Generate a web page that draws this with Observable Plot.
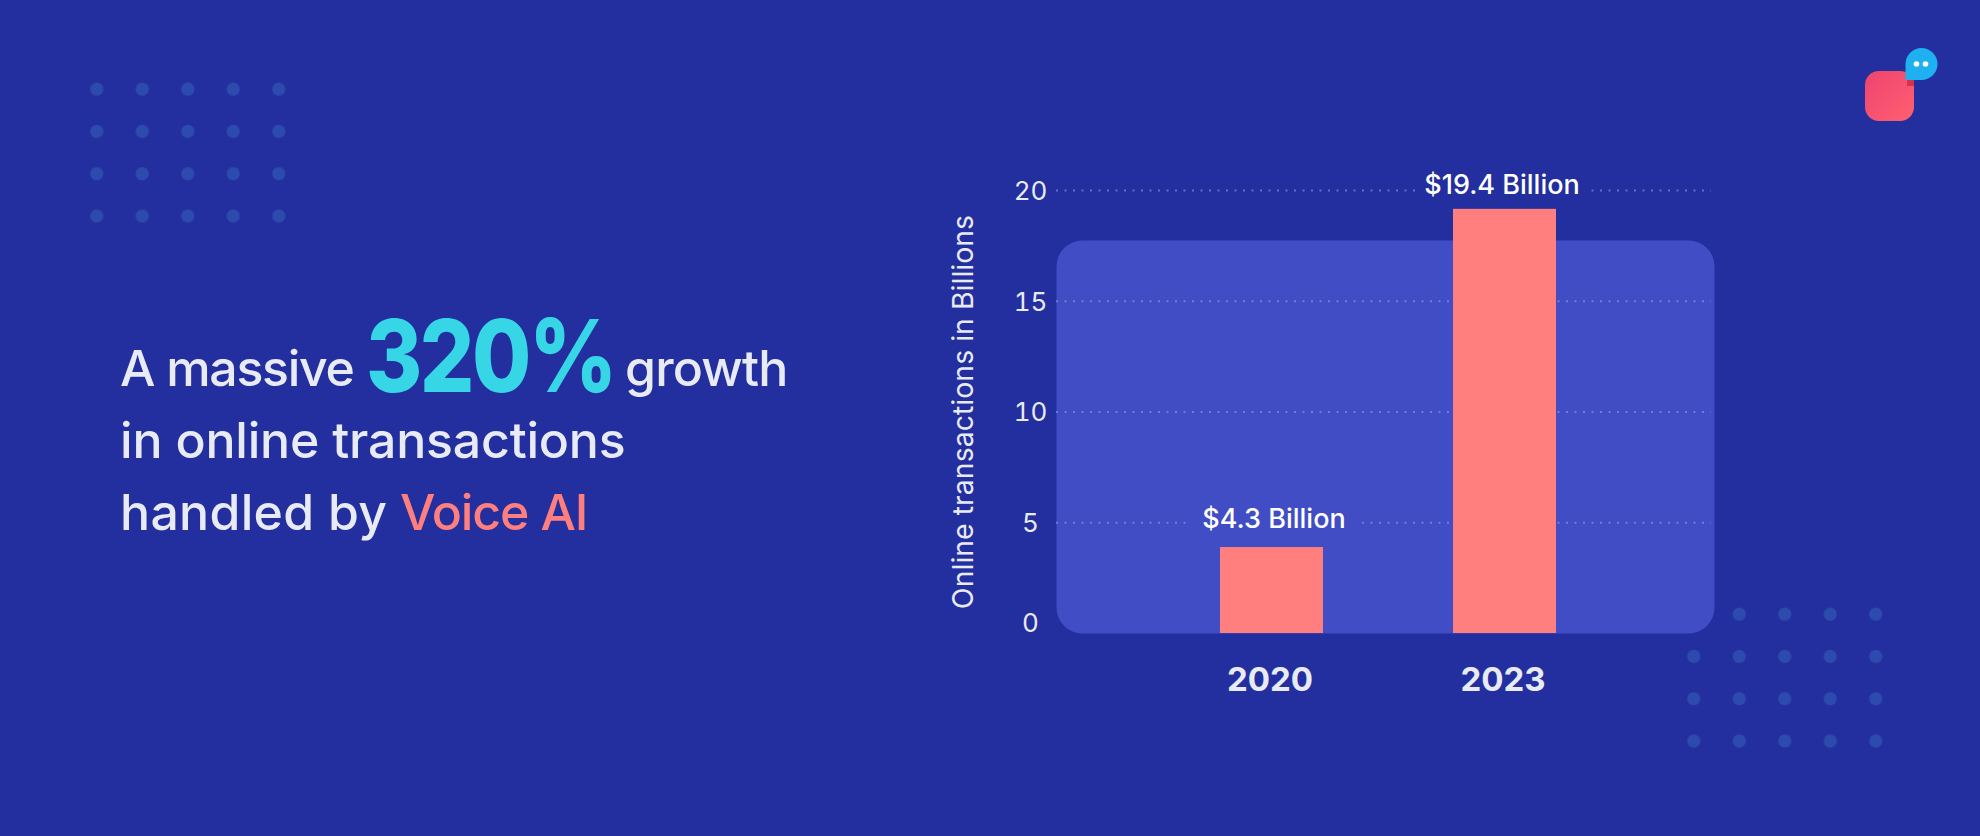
<!DOCTYPE html>
<html>
<head>
<meta charset="utf-8">
<script src="https://cdn.jsdelivr.net/npm/d3@7"></script>
<script src="https://cdn.jsdelivr.net/npm/@observablehq/plot@0.6"></script>
<style>
html,body{margin:0;padding:0;background:#232f9e;overflow:hidden}
#page{position:relative;width:1980px;height:836px;background:#232f9e;font-family:Inter,sans-serif;overflow:hidden}
.dots{position:absolute;background-image:radial-gradient(circle,#2d4bae 6px,rgba(45,75,174,0) 7px)}
#d1{left:74px;top:68px;width:227.5px;height:169px;background-size:45.5px 42.3px}
#d2{left:1671px;top:593px;width:227.5px;height:169px;background-size:45.5px 42.3px}
#chart{position:absolute;left:0;top:0}
.h{position:absolute;white-space:nowrap;color:#e8eaf4;font-weight:500;font-size:50px;letter-spacing:-.2px;line-height:60px}
.big{color:#36d6e7;font-weight:800;font-size:101px;line-height:110px;letter-spacing:-3px;transform:scaleX(.85);transform-origin:0 50%}
.coral{color:#ff7f7f}
#logo{position:absolute;left:1860px;top:45px}
</style>
</head>
<body>
<div id="page">
  <div class="dots" id="d1"></div>
  <div class="dots" id="d2"></div>
  <div id="chart"></div>
  <div class="h" style="left:120px;top:338px;letter-spacing:-1.3px" id="t1"></div>
  <div class="h big" style="left:366px;top:300px" id="t2"></div>
  <div class="h" style="left:625px;top:338px;letter-spacing:-.8px" id="t3"></div>
  <div class="h" style="left:120px;top:410px" id="t4"></div>
  <div class="h" style="left:120px;top:482px;letter-spacing:.3px" id="t5"></div>
  <div class="h coral" style="left:400px;top:482px;letter-spacing:-1.1px" id="t6"></div>
  <svg id="logo" width="80" height="80" viewBox="0 0 80 80">
    <defs><linearGradient id="lg" x1="0" x2="1" y1="0" y2="1"><stop offset="0" stop-color="#ee4470"/><stop offset="1" stop-color="#ff5f70"/></linearGradient></defs>
    <rect x="5" y="26" width="49" height="50" rx="14" fill="url(#lg)"/>
    <path d="M47 26 H54 V41 H47 Z" fill="#d8304f"/>
    <path d="M45.5 19 a16 16 0 1 1 16 16 h-16 z" fill="#1fb0f2"/>
    <circle cx="56.5" cy="19" r="2.8" fill="#fff"/>
    <circle cx="65.5" cy="19" r="2.8" fill="#fff"/>
  </svg>
</div>
<script>
const years = ["2020", "2023"];
const barHeights = [3.88, 19.15];
const barLabels = ["$4.3 Billion", "$19.4 Billion"];
const yTicks = [5, 10, 15, 20];
const zeroTick = [0];
const yTitle = "Online transactions in Billions";
const headline = ["A massive", "320%", "growth", "in online transactions", "handled by", "Voice AI"];

["t1","t2","t3","t4","t5","t6"].forEach((id, i) => { document.getElementById(id).textContent = headline[i]; });

const bars = years.map((year, i) => ({year, value: barHeights[i], label: barLabels[i]}));

const bg = "#232f9e";
const panel = "#414dc5";
const textCol = "#e8eaf4";
const first = {x: "year", y: "value", text: "label", dy: -28, dx: 2, fontSize: 27, fontWeight: 500};
const second = {x: "year", y: "value", text: "label", dy: -24, dx: -3, fontSize: 27, fontWeight: 500};

const plot = Plot.plot({
  width: 1980,
  height: 836,
  marginLeft: 1056,
  marginRight: 266,
  marginTop: 190,
  marginBottom: 203,
  style: {background: "transparent", fontFamily: "Inter, sans-serif", overflow: "visible"},
  x: {domain: years, paddingInner: 0.558, paddingOuter: 0.691, align: 0.509, label: null},
  y: {domain: [0, 20], label: null},
  marks: [
    Plot.frame({fill: panel, stroke: null, rx: 26, insetTop: 50}),
    Plot.ruleY(yTicks, {stroke: "#9aa5e6", strokeOpacity: 0.55, strokeWidth: 2, strokeDasharray: "2 6.5", insetRight: 3}),
    Plot.text(bars.slice(0, 1), {...first, stroke: panel, strokeWidth: 28, fill: panel}),
    Plot.text(bars.slice(1), {...second, stroke: bg, strokeWidth: 20, fill: bg}),
    Plot.barY(bars, {x: "year", y: "value", fill: "#ff7f7f"}),
    Plot.text(bars.slice(0, 1), {...first, fill: "#fff"}),
    Plot.text(bars.slice(1), {...second, fill: "#fff"}),
    Plot.axisY({ticks: yTicks, tickSize: 0, tickPadding: 26, textAnchor: "middle", fontSize: 26, fontWeight: 400, color: textCol, dy: 1, label: null}),
    Plot.axisY({ticks: zeroTick, tickSize: 0, tickPadding: 26, textAnchor: "middle", fontSize: 26, fontWeight: 400, color: textCol, dy: -10, label: null}),
    Plot.text([yTitle], {frameAnchor: "left", textAnchor: "middle", rotate: -90, dx: -93, fontSize: 28.5, fontWeight: 400, fill: textCol}),
    Plot.axisX({tickSize: 0, tickPadding: 34, fontSize: 33, fontWeight: 700, color: textCol, dx: -2, label: null})
  ]
});
document.getElementById("chart").appendChild(plot);
</script>
</body>
</html>
